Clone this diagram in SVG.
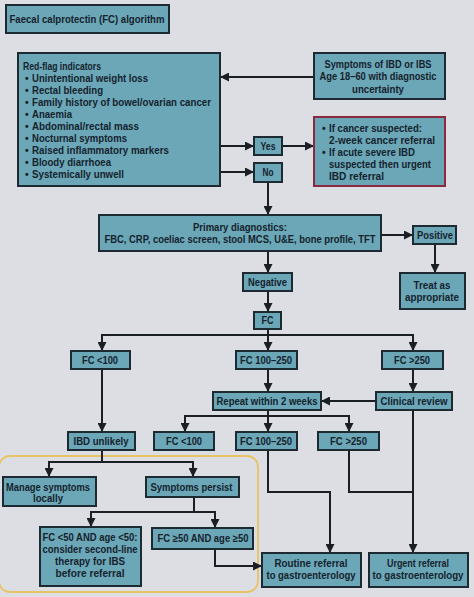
<svg xmlns="http://www.w3.org/2000/svg" width="474" height="597" viewBox="0 0 474 597">
<style>
.bg{fill:#dddee4}
.b{fill:#6ba7b7;stroke:#1e2a31;stroke-width:2}
.r{fill:#6ba7b7;stroke:#8a2a40;stroke-width:2}
.y{fill:none;stroke:#e7c363;stroke-width:1.8}
.c{fill:none;stroke:#1a1f24;stroke-width:2}
.a{marker-end:url(#ah)}
text{font-family:"Liberation Sans",Arial,sans-serif;font-weight:bold;font-size:10.5px;fill:#15222d}
.m{text-anchor:middle}
</style>
<defs>
<marker id="ah" markerUnits="userSpaceOnUse" markerWidth="9" markerHeight="9" refX="8" refY="4.5" orient="auto">
<path d="M0,0 L9,4.5 L0,9 z" fill="#1a1f24"/>
</marker>
</defs>
<rect class="bg" x="0" y="0" width="474" height="597"/>
<rect class="y" x="-1" y="456" width="259" height="136" rx="11"/>

<g id="connectors">
<line class="c a" x1="314" y1="77" x2="221" y2="77"/>
<line class="c a" x1="220" y1="146" x2="253" y2="146"/>
<line class="c a" x1="220" y1="172" x2="253" y2="172"/>
<line class="c a" x1="282" y1="146" x2="313" y2="146"/>
<line class="c a" x1="268" y1="182" x2="268" y2="214"/>
<line class="c a" x1="381" y1="235" x2="412" y2="235"/>
<line class="c a" x1="435" y1="244" x2="435" y2="272"/>
<line class="c a" x1="268" y1="251" x2="268" y2="272"/>
<line class="c a" x1="268" y1="291" x2="268" y2="311"/>
<line class="c" x1="268" y1="329" x2="268" y2="335"/>
<line class="c" x1="101" y1="335" x2="414" y2="335"/>
<line class="c a" x1="102" y1="335" x2="102" y2="350"/>
<line class="c a" x1="268" y1="335" x2="268" y2="350"/>
<line class="c a" x1="413" y1="335" x2="413" y2="350"/>
<line class="c a" x1="268" y1="369" x2="268" y2="391"/>
<line class="c a" x1="413" y1="369" x2="413" y2="391"/>
<line class="c a" x1="376" y1="401" x2="322" y2="401"/>
<line class="c" x1="268" y1="410" x2="268" y2="416"/>
<line class="c" x1="184" y1="416" x2="350" y2="416"/>
<line class="c a" x1="185" y1="416" x2="185" y2="431"/>
<line class="c a" x1="268" y1="416" x2="268" y2="431"/>
<line class="c a" x1="349" y1="416" x2="349" y2="431"/>
<line class="c a" x1="102" y1="369" x2="102" y2="431"/>
<line class="c" x1="102" y1="450" x2="102" y2="462"/>
<line class="c" x1="48" y1="462" x2="194" y2="462"/>
<line class="c a" x1="49" y1="462" x2="49" y2="476"/>
<line class="c a" x1="193" y1="462" x2="193" y2="476"/>
<line class="c" x1="194" y1="497" x2="194" y2="512"/>
<line class="c" x1="90" y1="512" x2="216" y2="512"/>
<line class="c a" x1="91" y1="512" x2="91" y2="526"/>
<line class="c a" x1="215" y1="512" x2="215" y2="527"/>
<polyline class="c a" points="215,549 215,566 261,566"/>
<polyline class="c a" points="268,450 268,492 330,492 330,552"/>
<polyline class="c" points="349,450 349,492 413,492"/>
<line class="c a" x1="413" y1="410" x2="413" y2="552"/>
</g>

<g id="title"><rect class="b" x="6" y="5" width="163" height="28"/>
<text class="m" x="87" y="22.5" textLength="155" lengthAdjust="spacingAndGlyphs">Faecal calprotectin (FC) algorithm</text></g>

<g id="redflag"><rect class="b" x="18" y="53" width="202" height="133"/>
<text x="23" y="69.5" textLength="78" lengthAdjust="spacingAndGlyphs">Red-flag indicators</text>
<text x="25" y="81.5">•</text><text x="32" y="81.5" textLength="116" lengthAdjust="spacingAndGlyphs">Unintentional weight loss</text>
<text x="25" y="93.5">•</text><text x="32" y="93.5" textLength="71" lengthAdjust="spacingAndGlyphs">Rectal bleeding</text>
<text x="25" y="105.5">•</text><text x="32" y="105.5" textLength="179" lengthAdjust="spacingAndGlyphs">Family history of bowel/ovarian cancer</text>
<text x="25" y="117.5">•</text><text x="32" y="117.5" textLength="40" lengthAdjust="spacingAndGlyphs">Anaemia</text>
<text x="25" y="129.5">•</text><text x="32" y="129.5" textLength="107" lengthAdjust="spacingAndGlyphs">Abdominal/rectal mass</text>
<text x="25" y="141.5">•</text><text x="32" y="141.5" textLength="95" lengthAdjust="spacingAndGlyphs">Nocturnal symptoms</text>
<text x="25" y="153.5">•</text><text x="32" y="153.5" textLength="137" lengthAdjust="spacingAndGlyphs">Raised inflammatory markers</text>
<text x="25" y="165.5">•</text><text x="32" y="165.5" textLength="79" lengthAdjust="spacingAndGlyphs">Bloody diarrhoea</text>
<text x="25" y="177.5">•</text><text x="32" y="177.5" textLength="92" lengthAdjust="spacingAndGlyphs">Systemically unwell</text></g>

<g id="symptoms"><rect class="b" x="314" y="53" width="131" height="46"/>
<text class="m" x="378" y="67.5" textLength="107" lengthAdjust="spacingAndGlyphs">Symptoms of IBD or IBS</text>
<text class="m" x="378" y="80" textLength="117" lengthAdjust="spacingAndGlyphs">Age 18–60 with diagnostic</text>
<text class="m" x="378" y="92.5" textLength="52" lengthAdjust="spacingAndGlyphs">uncertainty</text></g>

<g id="yes"><rect class="b" x="254" y="137" width="28" height="18"/>
<text class="m" x="268" y="149.5" textLength="15" lengthAdjust="spacingAndGlyphs">Yes</text></g>

<g id="no"><rect class="b" x="254" y="163" width="28" height="19"/>
<text class="m" x="268" y="176" textLength="11" lengthAdjust="spacingAndGlyphs">No</text></g>

<g id="referral-red"><rect class="r" x="314" y="117" width="131" height="69"/>
<text x="322" y="131.5">•</text><text x="329" y="131.5" textLength="93" lengthAdjust="spacingAndGlyphs">If cancer suspected:</text>
<text x="329" y="143.5" textLength="106" lengthAdjust="spacingAndGlyphs">2-week cancer referral</text>
<text x="322" y="155.5">•</text><text x="329" y="155.5" textLength="86" lengthAdjust="spacingAndGlyphs">If acute severe IBD</text>
<text x="329" y="167.5" textLength="102" lengthAdjust="spacingAndGlyphs">suspected then urgent</text>
<text x="329" y="179.5" textLength="55" lengthAdjust="spacingAndGlyphs">IBD referral</text></g>

<g id="primary"><rect class="b" x="99" y="215" width="282" height="36"/>
<text class="m" x="240" y="230.5" textLength="94" lengthAdjust="spacingAndGlyphs">Primary diagnostics:</text>
<text class="m" x="240" y="242.5" textLength="271" lengthAdjust="spacingAndGlyphs">FBC, CRP, coeliac screen, stool MCS, U&amp;E, bone profile, TFT</text></g>

<g id="positive"><rect class="b" x="413" y="226" width="43" height="18"/>
<text class="m" x="435" y="238.5" textLength="36" lengthAdjust="spacingAndGlyphs">Positive</text></g>

<g id="treat"><rect class="b" x="400" y="273" width="65" height="36"/>
<text class="m" x="432" y="288.5" textLength="37" lengthAdjust="spacingAndGlyphs">Treat as</text>
<text class="m" x="432" y="300.5" textLength="54" lengthAdjust="spacingAndGlyphs">appropriate</text></g>

<g id="negative"><rect class="b" x="243" y="273" width="49" height="18"/>
<text class="m" x="267.5" y="285.5" textLength="39" lengthAdjust="spacingAndGlyphs">Negative</text></g>

<g id="fc"><rect class="b" x="254" y="312" width="27" height="17"/>
<text class="m" x="267.5" y="324" textLength="12" lengthAdjust="spacingAndGlyphs">FC</text></g>

<g id="fc-low"><rect class="b" x="71" y="351" width="59" height="18"/>
<text class="m" x="100" y="363.5" textLength="36" lengthAdjust="spacingAndGlyphs">FC &lt;100</text></g>

<g id="fc-mid"><rect class="b" x="236" y="351" width="61" height="18"/>
<text class="m" x="266" y="363.5" textLength="52" lengthAdjust="spacingAndGlyphs">FC 100–250</text></g>

<g id="fc-high"><rect class="b" x="382" y="351" width="61" height="18"/>
<text class="m" x="412" y="363.5" textLength="36" lengthAdjust="spacingAndGlyphs">FC &gt;250</text></g>

<g id="repeat"><rect class="b" x="213" y="392" width="108" height="18"/>
<text class="m" x="267" y="404.5" textLength="101" lengthAdjust="spacingAndGlyphs">Repeat within 2 weeks</text></g>

<g id="clinical"><rect class="b" x="376" y="392" width="76" height="18"/>
<text class="m" x="414" y="404.5" textLength="67" lengthAdjust="spacingAndGlyphs">Clinical review</text></g>

<g id="ibd-unlikely"><rect class="b" x="68" y="432" width="67" height="18"/>
<text class="m" x="101" y="444.5" textLength="55" lengthAdjust="spacingAndGlyphs">IBD unlikely</text></g>

<g id="fc-low-2"><rect class="b" x="154" y="432" width="60" height="18"/>
<text class="m" x="184" y="444.5" textLength="36" lengthAdjust="spacingAndGlyphs">FC &lt;100</text></g>

<g id="fc-mid-2"><rect class="b" x="236" y="432" width="61" height="18"/>
<text class="m" x="266" y="444.5" textLength="52" lengthAdjust="spacingAndGlyphs">FC 100–250</text></g>

<g id="fc-high-2"><rect class="b" x="318" y="432" width="61" height="18"/>
<text class="m" x="348.5" y="444.5" textLength="37" lengthAdjust="spacingAndGlyphs">FC &gt;250</text></g>

<g id="manage"><rect class="b" x="3" y="477" width="93" height="29"/>
<text class="m" x="48" y="490.5" textLength="84" lengthAdjust="spacingAndGlyphs">Manage symptoms</text>
<text class="m" x="48" y="502" textLength="30" lengthAdjust="spacingAndGlyphs">locally</text></g>

<g id="persist"><rect class="b" x="146" y="477" width="93" height="20"/>
<text class="m" x="191.5" y="490.5" textLength="82" lengthAdjust="spacingAndGlyphs">Symptoms persist</text></g>

<g id="fc-under50"><rect class="b" x="40" y="527" width="101" height="59"/>
<text class="m" x="90" y="540.5" textLength="95" lengthAdjust="spacingAndGlyphs">FC &lt;50 AND age &lt;50:</text>
<text class="m" x="90" y="552.5" textLength="95" lengthAdjust="spacingAndGlyphs">consider second-line</text>
<text class="m" x="90" y="564.5" textLength="70" lengthAdjust="spacingAndGlyphs">therapy for IBS</text>
<text class="m" x="90" y="576.5" textLength="69" lengthAdjust="spacingAndGlyphs">before referral</text></g>

<g id="fc-over50"><rect class="b" x="152" y="528" width="101" height="21"/>
<text class="m" x="203" y="541.5" textLength="91" lengthAdjust="spacingAndGlyphs">FC ≥50 AND age ≥50</text></g>

<g id="routine"><rect class="b" x="262" y="553" width="99" height="34"/>
<text class="m" x="311" y="566.5" textLength="73" lengthAdjust="spacingAndGlyphs">Routine referral</text>
<text class="m" x="311" y="578.5" textLength="89" lengthAdjust="spacingAndGlyphs">to gastroenterology</text></g>

<g id="urgent"><rect class="b" x="369" y="553" width="99" height="34"/>
<text class="m" x="418" y="566.5" textLength="62" lengthAdjust="spacingAndGlyphs">Urgent referral</text>
<text class="m" x="418" y="578.5" textLength="91" lengthAdjust="spacingAndGlyphs">to gastroenterology</text></g>
</svg>
